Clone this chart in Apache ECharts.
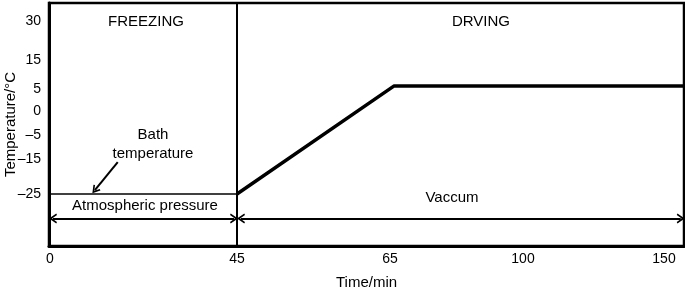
<!DOCTYPE html>
<html>
<head>
<meta charset="utf-8">
<script src="https://cdn.jsdelivr.net/npm/echarts@6/dist/echarts.min.js"></script>
<style>
  html, body { margin: 0; padding: 0; background: #fff; }
  #chart { width: 685px; height: 296px; }
</style>
</head>
<body>
<div id="chart"></div>
<script>
// tick labels
const xTicks = [0, 45, 65, 100, 150];
const yTicks = [30, 15, 5, 0, -5, -15, -25];
// where each tick sits along its axis (axis units from the origin) - the source scale is uneven
const xTickAt = [1, 188, 341, 474, 615];
const yTickAt = [225, 186, 157, 135, 111, 87, 52];

// bath temperature during freezing
const bathTime = [0, 45];
const bathTemp = [-25, -25];
// shelf temperature during drying
const shelfTime = [45, 66, 157];
const shelfTemp = [-25, 6, 6];
// stage boundary (min)
const stageSplit = 45;
// pressure arrows (drawn below the temperature range)
const atmTime = [0, 45];
const vacTime = [45, 157];
const arrowTemp = -32;
// pointer to the bath line
const pointerTime = [16.3, 10.8];
const pointerTemp = [-15.9, -23.9];

function piecewise(v, ticks, at) {
  const pairs = ticks.map((t, i) => [t, at[i]]).sort((a, b) => a[0] - b[0]);
  let i = 0;
  while (i < pairs.length - 2 && v > pairs[i + 1][0]) i++;
  const [t0, p0] = pairs[i];
  const [t1, p1] = pairs[i + 1];
  return p0 + (v - t0) * (p1 - p0) / (t1 - t0);
}
const mapX = v => piecewise(v, xTicks, xTickAt);
const mapY = v => piecewise(v, yTicks, yTickAt);

const chevron = 'path://M0,9 L5,0 L10,9 L8.4,9.9 L5,3.8 L1.6,9.9 Z';
const font = 'Liberation Sans';

const chart = echarts.init(document.getElementById('chart'));

chart.setOption({
  animation: false,
  grid: {
    left: 49, right: 1, top: 3, bottom: 50,
    outerBoundsMode: 'none', containLabel: false,
    show: true, borderColor: '#000', borderWidth: 2.5, backgroundColor: 'transparent'
  },
  xAxis: {
    type: 'value', min: 0, max: 635,
    name: 'Time/min', nameLocation: 'middle', nameGap: 29, nameMoveOverlap: false,
    nameTextStyle: { color: '#000', fontSize: 15, fontFamily: font },
    axisLine: { show: true, lineStyle: { color: '#000', width: 3 } },
    axisTick: { show: false },
    splitLine: { show: false },
    axisLabel: {
      customValues: xTickAt, margin: 6,
      color: '#000', fontSize: 14, fontFamily: font,
      formatter: v => String(xTicks[xTickAt.indexOf(v)])
    }
  },
  yAxis: {
    type: 'value', min: 0, max: 243,
    name: 'Temperature/°C', nameLocation: 'middle', nameGap: 31, nameMoveOverlap: false,
    nameTextStyle: { color: '#000', fontSize: 15, fontFamily: font },
    axisLine: { show: true, lineStyle: { color: '#000', width: 3 } },
    axisTick: { show: false },
    splitLine: { show: false },
    axisLabel: {
      customValues: yTickAt, margin: 8,
      color: '#000', fontSize: 14, fontFamily: font,
      formatter: v => {
        const t = yTicks[yTickAt.indexOf(v)];
        return t < 0 ? '\u2013' + Math.abs(t) : String(t);
      }
    }
  },
  graphic: [
    { type: 'text', x: 146, y: 22, style: { text: 'FREEZING', font: '15px "Liberation Sans"', fill: '#000', textAlign: 'center', textVerticalAlign: 'middle' } },
    { type: 'text', x: 481, y: 22, style: { text: 'DRVING', font: '15px "Liberation Sans"', fill: '#000', textAlign: 'center', textVerticalAlign: 'middle' } },
    { type: 'text', x: 153, y: 144, style: { text: 'Bath\ntemperature', font: '15px "Liberation Sans"', lineHeight: 19, fill: '#000', textAlign: 'center', textVerticalAlign: 'middle' } },
    { type: 'text', x: 145, y: 206, style: { text: 'Atmospheric pressure', font: '15px "Liberation Sans"', fill: '#000', textAlign: 'center', textVerticalAlign: 'middle' } },
    { type: 'text', x: 452, y: 198, style: { text: 'Vaccum', font: '15px "Liberation Sans"', fill: '#000', textAlign: 'center', textVerticalAlign: 'middle' } }
  ],
  series: [
    {
      name: 'Bath temperature',
      type: 'line',
      symbol: 'none',
      lineStyle: { color: '#000', width: 1.5 },
      data: bathTime.map((t, i) => [mapX(t), mapY(bathTemp[i])]),
      markLine: {
        silent: true, animation: false,
        label: { show: false },
        lineStyle: { color: '#000', width: 2, type: 'solid' },
        data: [
          [
            { coord: [mapX(pointerTime[0]), mapY(pointerTemp[0])], symbol: 'none' },
            { coord: [mapX(pointerTime[1]), mapY(pointerTemp[1])], symbol: chevron, symbolSize: [9, 8] }
          ],
          [
            { coord: [mapX(atmTime[0]) + 3, mapY(arrowTemp)], symbol: chevron, symbolSize: [10, 8] },
            { coord: [mapX(atmTime[1]) - 3, mapY(arrowTemp)], symbol: chevron, symbolSize: [10, 8] }
          ],
          [
            { coord: [mapX(vacTime[0]) + 4, mapY(arrowTemp)], symbol: chevron, symbolSize: [10, 8] },
            { coord: [mapX(vacTime[1]) - 3, mapY(arrowTemp)], symbol: chevron, symbolSize: [10, 8] }
          ]
        ]
      }
    },
    {
      name: 'Shelf temperature',
      type: 'line',
      symbol: 'none',
      lineStyle: { color: '#000', width: 3.5 },
      data: shelfTime.map((t, i) => [mapX(t), mapY(shelfTemp[i])]),
      markLine: {
        silent: true, animation: false, symbol: 'none',
        label: { show: false },
        lineStyle: { color: '#000', width: 2, type: 'solid' },
        data: [{ xAxis: mapX(stageSplit) }]
      }
    }
  ]
});
</script>
</body>
</html>
